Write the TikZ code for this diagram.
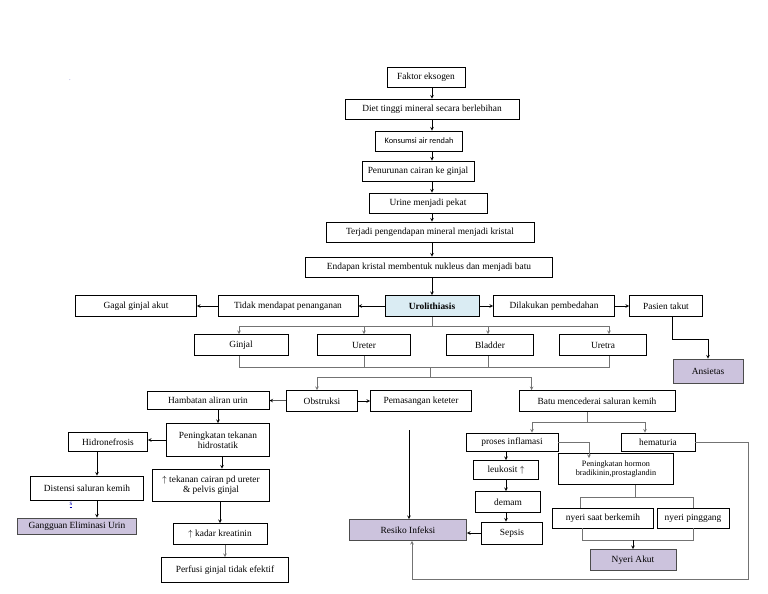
\documentclass[tikz,border=0pt]{standalone}
\usepackage{fontspec}
\setmainfont{Liberation Serif}
\newfontfamily\sansbox{Carlito}
\usepackage{xcolor}
\usetikzlibrary{arrows,positioning,calc}
\definecolor{lilac}{RGB}{204,195,221}
\definecolor{uroblue}{RGB}{218,236,243}
\tikzstyle{box}  =[rectangle, draw=black, fill=white, line width=0.8pt, inner sep=1pt,
                   text centered, align=center, font=\fontsize{9.4}{10.4}\selectfont]
\tikzstyle{diag} =[box, draw=black!70, fill=lilac]
\tikzstyle{arr}  =[->, >=stealth, line width=0.6pt]
\tikzstyle{bus}  =[draw=black!55, line width=0.6pt]

\begin{document}
\begin{tikzpicture}[x=1pt, y=-1pt]
  \useasboundingbox (0,0) rectangle (768,594);

  % ── main chain ──────────────────────────────────────────────────────────────
  \node[box, minimum width=78, minimum height=20]  (faktor)    at (426, 77)  {Faktor eksogen};
  \node[box, minimum width=174, minimum height=20] (diet)      at (432,109)  {Diet tinggi mineral secara berlebihan};
  \node[box, minimum width=87, minimum height=20, font=\sansbox\fontsize{8.3}{9.6}\selectfont]
                                                   (konsumsi)  at (419,141)  {Konsumsi air rendah};
  \node[box, minimum width=112, minimum height=20] (penurunan) at (418,171)  {Penurunan cairan ke ginjal};
  \node[box, minimum width=118, minimum height=20] (pekat)     at (428,203)  {Urine menjadi pekat};
  \node[box, minimum width=208, minimum height=20] (endap)     at (430,232)  {Terjadi pengendapan mineral menjadi kristal};
  \node[box, minimum width=247, minimum height=20] (nukleus)   at (429,267)  {Endapan kristal membentuk nukleus dan menjadi batu};
  \node[box, fill=uroblue, minimum width=94, minimum height=21, font=\bfseries\fontsize{9.4}{10.4}\selectfont]
                                                   (uro)       at (432,306)  {Urolithiasis};

  % ── left / right of urolithiasis ────────────────────────────────────────────
  \node[box, minimum width=140, minimum height=21] (tidak)     at (288,306)  {Tidak mendapat penanganan};
  \node[box, minimum width=121, minimum height=21] (gagal)     at (136,306)  {Gagal ginjal akut};
  \node[box, minimum width=121, minimum height=21] (bedah)     at (554,306)  {Dilakukan pembedahan};
  \node[box, minimum width=73, minimum height=21]  (takut)     at (666,306)  {Pasien takut};
  \node[diag, minimum width=70, minimum height=24] (ansietas)  at (708,371)  {Ansietas};

  % ── location row ────────────────────────────────────────────────────────────
  \node[box, minimum width=94, minimum height=21]  (ginjal)    at (241,345)  {Ginjal};
  \node[box, minimum width=93, minimum height=21]  (ureter)    at (364,345)  {Ureter};
  \node[box, minimum width=87, minimum height=21]  (bladder)   at (490,345)  {Bladder};
  \node[box, minimum width=87, minimum height=21]  (uretra)    at (603,345)  {Uretra};

  % ── obstruction branch ──────────────────────────────────────────────────────
  \node[box, minimum width=71, minimum height=21]  (obstruksi) at (322,401)  {Obstruksi};
  \node[box, minimum width=101, minimum height=21] (keteter)   at (421,401)  {Pemasangan keteter};
  \node[box, minimum width=122, minimum height=18] (hambatan)  at (208,400)  {Hambatan aliran urin};
  \node[box, minimum width=103, minimum height=33] (hidrostatik) at (218,440) {Peningkatan tekanan\\hidrostatik};
  \node[box, minimum width=79, minimum height=19]  (hidro)     at (108,442)  {Hidronefrosis};
  \node[box, minimum width=113, minimum height=24] (distensi)  at (87,488)   {Distensi saluran kemih};
  \node[diag, minimum width=119, minimum height=16] (gangguan) at (77,526)   {Gangguan Eliminasi Urin};
  \node[box, minimum width=117, minimum height=32] (tekanan)   at (211,485)  {$\uparrow$ tekanan cairan pd ureter\\\& pelvis ginjal};
  \node[box, minimum width=94, minimum height=21]  (kreatinin) at (220,534)  {$\uparrow$ kadar kreatinin};
  \node[box, minimum width=127, minimum height=25] (perfusi)   at (225,570)  {Perfusi ginjal tidak efektif};
  \node[diag, minimum width=117, minimum height=21] (infeksi)  at (408,530)  {Resiko Infeksi};
  \node[text=blue!70!black, font=\scriptsize, inner sep=0pt] (slink) at (71,505) {\underline{s}};
  \node[text=blue!70!black, font=\tiny, inner sep=0pt] (dot)   at (70,80)    {.};

  % ── injury branch ───────────────────────────────────────────────────────────
  \node[box, minimum width=156, minimum height=21] (batu)      at (597,401)  {Batu mencederai saluran kemih};
  \node[box, minimum width=92, minimum height=18]  (inflamasi) at (512,442)  {proses inflamasi};
  \node[box, minimum width=74, minimum height=18]  (hematuria) at (658,442)  {hematuria};
  \node[box, minimum width=65, minimum height=19]  (leukosit)  at (506,470)  {leukosit $\uparrow$};
  \node[box, minimum width=65, minimum height=21]  (demam)     at (508,502)  {demam};
  \node[box, minimum width=61, minimum height=22]  (sepsis)    at (512,533)  {Sepsis};
  \node[box, minimum width=115, minimum height=31, font=\fontsize{8.2}{9.4}\selectfont]
                                                   (hormon)    at (616,469)  {Peningkatan hormon\\bradikinin,prostaglandin};
  \node[box, minimum width=101, minimum height=20] (berkemih)  at (603,518)  {nyeri saat berkemih};
  \node[box, minimum width=72, minimum height=20]  (pinggang)  at (693,518)  {nyeri pinggang};
  \node[diag, minimum width=86, minimum height=21] (nyeri)     at (633,560)  {Nyeri Akut};

  % ── main flow ───────────────────────────────────────────────────────────────
  \draw[arr] (faktor.south -| uro)    -- (diet.north -| uro);
  \draw[arr] (diet.south -| uro)      -- (konsumsi.north -| uro);
  \draw[arr] (konsumsi.south -| uro)  -- (penurunan.north -| uro);
  \draw[arr] (penurunan.south -| uro) -- (pekat.north -| uro);
  \draw[arr] (pekat.south -| uro)     -- (endap.north -| uro);
  \draw[arr] (endap.south -| uro)     -- (nukleus.north -| uro);
  \draw[arr] (nukleus.south -| uro)   -- (uro.north);
  \draw[arr] (uro)   -- (tidak);
  \draw[arr] (tidak) -- (gagal);
  \draw[arr] (uro)   -- (bedah);
  \draw[arr] (bedah) -- (takut);
  \coordinate (tk) at (672,339);
  \draw[arr] (takut.south -| tk) -- (tk) -| (ansietas.north);

  % ── split to locations and merge again ─────────────────────────────────────
  \coordinate (ubus) at (432,326);
  \draw[bus] (uro.south) -- (ubus);
  \draw[arr, bus] (ubus) -| ([xshift=-2]ginjal.north);
  \draw[arr, bus] (ubus) -| (ureter.north);
  \draw[arr, bus] (ubus) -| ([xshift=-2]bladder.north);
  \draw[arr, bus] (ubus) -| ([xshift=6]uretra.north);
  \coordinate (lbus) at (430,367);
  \draw[bus] ([xshift=-2]ginjal.south) |- (lbus);
  \draw[bus] (ureter.south) |- (lbus);
  \draw[bus] ([xshift=-2]bladder.south) |- (lbus);
  \draw[bus] ([xshift=6]uretra.south) |- (lbus);
  \coordinate (obus) at (430,377);
  \draw[bus] (lbus) -- (obus);
  \draw[arr, bus] (obus) -| ([xshift=-5]obstruksi.north);
  \draw[arr, bus] (obus) -| ($(batu.north west)+(13,0)$);

  % ── obstruction branch ──────────────────────────────────────────────────────
  \draw[arr] (obstruksi) -- (hambatan);
  \draw[arr] (obstruksi) -- (keteter);
  \draw[arr] (hambatan.south -| hidrostatik) -- (hidrostatik.north);
  \draw[arr] (hidrostatik.west) -- (hidrostatik.west -| hidro.east);
  \draw[arr] ([xshift=-11]hidro.south) -- ([xshift=-11]hidro.south |- distensi.north);
  \draw[arr] ([xshift=10]distensi.south) -- ([xshift=10]distensi.south |- gangguan.north);
  \draw[arr] ([xshift=4]hidrostatik.south) -- ([xshift=4]hidrostatik.south |- tekanan.north);
  \draw[arr] (tekanan.south -| kreatinin) -- (kreatinin.north);
  \draw[arr, bus] (kreatinin.south -| perfusi) -- (perfusi.north);
  \coordinate (kgap) at (409,430);
  \draw[arr] (kgap) -- (kgap |- infeksi.north);

  % ── injury branch ───────────────────────────────────────────────────────────
  \coordinate (bsplit) at (587,422);
  \draw[bus] (batu.south -| bsplit) -- (bsplit);
  \draw[arr, bus] (bsplit) -| ([xshift=20]inflamasi.north);
  \draw[arr, bus] (bsplit) -| ([xshift=-13]hematuria.north);
  \draw[arr] (inflamasi.south -| leukosit) -- (leukosit.north);
  \draw[arr] (leukosit.south) -- (leukosit.south |- demam.north);
  \draw[arr] (demam.south -| leukosit) -- (sepsis.north -| leukosit);
  \draw[arr] (sepsis.west) -- (sepsis.west -| infeksi.east);
  \draw[arr, bus] (inflamasi.east) -| ([xshift=-27,yshift=-5]hormon.north);
  \coordinate (hbus) at (635,497);
  \draw[bus] (hormon.south -| hbus) -- (hbus);
  \draw[bus] (hbus) -| ([xshift=-23]berkemih.north);
  \draw[bus] (hbus) -| (pinggang.north);
  \coordinate (nbus) at (633,540);
  \draw[bus] ([xshift=-21]berkemih.south) |- (nbus);
  \draw[bus] (pinggang.south) |- (nbus);
  \draw[arr] (nbus) -- (nyeri.north);

  % ── hematuria loops back to infection risk ─────────────────────────────────
  \coordinate (loopR) at (748,579);
  \draw[arr, bus] (hematuria.east) -| (loopR) -| ([xshift=4]infeksi.south);

\end{tikzpicture}
\end{document}
